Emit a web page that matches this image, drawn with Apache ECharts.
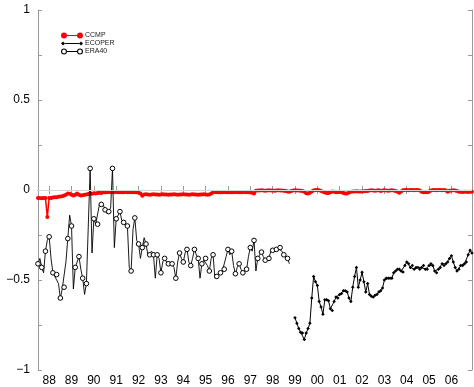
<!DOCTYPE html>
<html><head><meta charset="utf-8">
<script src="https://cdn.jsdelivr.net/npm/echarts@6/dist/echarts.min.js"></script>
<style>html,body{margin:0;padding:0;background:#fff}#c{width:474px;height:387px}</style>
</head><body><div id="c"></div>
<script>
// Monthly series; x in decimal years
const ccmpStart = 1987.5;   // July 1987
const era40Start = 1987.5;  // July 1987
const ecoperStart = 1999.0; // January 1999
const tickYears = [1988,1989,1990,1991,1992,1993,1994,1995,1996,1997,1998,1999,2000,2001,2002,2003,2004,2005,2006];
const tickLabels = ['88','89','90','91','92','93','94','95','96','97','98','99','00','01','02','03','04','05','06'];
const seriesNames = ['CCMP','ECOPER','ERA40'];

const ccmp = [
-0.045,-0.045,-0.046,-0.044,-0.045,
-0.15,
-0.045,-0.044,-0.042,-0.04,-0.04,
-0.038,-0.036,-0.035,-0.03,-0.026,
-0.02,-0.021,-0.026,
-0.03,-0.027,-0.02,-0.026,
-0.03,-0.029,-0.027,-0.025,-0.022,-0.02,
-0.021,-0.018,-0.019,-0.016,-0.015,-0.016,-0.013,
-0.012,-0.012,-0.011,-0.013,-0.012,-0.012,-0.011,-0.012,-0.013,-0.012,-0.012,-0.011,-0.012,-0.012,-0.013,-0.012,-0.012,-0.013,-0.015,-0.02,
-0.032,
-0.025,-0.024,-0.025,-0.026,-0.025,-0.024,-0.025,-0.025,-0.026,-0.025,
-0.024,-0.025,-0.025,-0.026,-0.025,-0.025,-0.024,-0.025,-0.026,-0.025,
-0.025,-0.024,-0.025,-0.025,-0.026,-0.025,-0.024,-0.025,-0.025,-0.026,
-0.025,-0.025,-0.024,-0.025,-0.026,-0.025,-0.02,
-0.012,-0.011,-0.012,-0.013,-0.012,-0.012,-0.011,-0.012,-0.012,-0.013,
-0.012,-0.012,-0.011,-0.012,-0.013,-0.012,-0.012,-0.011,-0.012,-0.012,
-0.013,-0.015,
-0.02,
-0.004,-0.003,-0.003,-0.002,-0.003,-0.004,-0.003,-0.002,-0.003,-0.003,
-0.004,-0.003,-0.002,-0.003,-0.003,-0.004,-0.005,-0.008,-0.01,-0.006,
-0.003,-0.002,-0.003,-0.003,-0.004,-0.006,
-0.01,-0.018,-0.02,-0.015,-0.008,
-0.003,0.0,0.0,-0.002,-0.006,-0.01,
-0.014,-0.016,-0.016,-0.012,-0.008,
-0.01,-0.012,-0.012,-0.01,-0.012,
-0.016,-0.02,-0.02,-0.014,-0.01,
-0.008,-0.008,-0.007,-0.008,-0.009,-0.008,-0.007,-0.006,-0.005,
-0.003,-0.002,-0.003,-0.004,-0.003,-0.002,-0.006,-0.003,-0.002,-0.003,-0.004,-0.003,-0.002,-0.003,-0.005,
-0.01,-0.015,-0.008,
-0.002,0.0,0.0,-0.001,0.0,0.0,-0.002,0.0,0.0,-0.003,
-0.01,-0.012,-0.012,-0.012,-0.008,
-0.003,0.0,0.0,-0.001,0.0,0.0,-0.002,0.0,-0.003,
-0.01,
-0.004,-0.003,-0.002,-0.003,-0.005,
-0.01,-0.01,-0.011,-0.01,-0.01,-0.011,-0.01,-0.01
];

const era40 = [
-0.41,-0.38,-0.43,-0.46,-0.34,-0.28,-0.26,-0.38,-0.46,-0.48,
-0.47,-0.52,-0.60,-0.55,-0.54,-0.40,-0.27,-0.14,-0.20,-0.55,
-0.43,-0.40,-0.37,-0.44,-0.49,-0.58,-0.52,-0.20,0.12,-0.35,
-0.16,-0.19,-0.19,-0.08,-0.08,-0.08,-0.11,-0.13,-0.12,-0.10,
0.12,-0.32,-0.16,-0.15,-0.12,-0.17,-0.18,-0.185,-0.20,-0.43,
-0.45,-0.22,-0.155,-0.28,-0.30,-0.38,-0.32,-0.265,-0.30,-0.36,
-0.36,-0.34,-0.36,-0.49,-0.36,-0.38,-0.46,-0.40,-0.38,-0.40,
-0.41,-0.40,-0.41,-0.43,-0.49,-0.40,-0.35,-0.38,-0.40,-0.35,
-0.33,-0.40,-0.42,-0.38,-0.33,-0.36,-0.38,-0.49,-0.41,-0.39,
-0.38,-0.42,-0.45,-0.38,-0.36,-0.49,-0.48,-0.47,-0.46,-0.45,
-0.44,-0.37,-0.33,-0.36,-0.34,-0.42,-0.465,-0.43,-0.41,-0.44,
-0.46,-0.45,-0.44,-0.37,-0.32,-0.34,-0.28,-0.45,-0.38,-0.36,
-0.345,-0.37,-0.39,-0.40,-0.38,-0.34,-0.335,-0.33,-0.33,-0.325,
-0.32,-0.34,-0.36,-0.37,-0.38,-0.41
];

const ecoper = [
-0.71,-0.74,-0.77,-0.79,-0.795,-0.83,-0.795,-0.77,-0.74,-0.60,
-0.48,-0.51,-0.53,-0.62,-0.65,-0.69,-0.61,-0.61,-0.615,-0.66,
-0.67,-0.62,-0.595,-0.60,-0.58,-0.575,-0.56,-0.56,-0.567,-0.60,
-0.62,-0.54,-0.48,-0.43,-0.54,-0.50,-0.457,-0.51,-0.567,-0.52,
-0.58,-0.59,-0.595,-0.585,-0.58,-0.567,-0.56,-0.545,-0.50,-0.49,
-0.49,-0.49,-0.49,-0.46,-0.45,-0.44,-0.44,-0.45,-0.455,-0.42,
-0.40,-0.41,-0.43,-0.42,-0.44,-0.43,-0.43,-0.44,-0.43,-0.42,
-0.44,-0.44,-0.42,-0.41,-0.42,-0.45,-0.46,-0.44,-0.43,-0.41,
-0.42,-0.41,-0.40,-0.38,-0.365,-0.40,-0.43,-0.45,-0.44,-0.42,
-0.42,-0.41,-0.40,-0.36,-0.335,-0.35
];

function monthly(start, vals){ return vals.map((v,i)=>[start + i/12, v]); }

const dot = 'M0,3 A3,3 0 1,1 6,3 A3,3 0 1,1 0,3 Z M16,3 A3,3 0 1,1 22,3 A3,3 0 1,1 16,3 Z M6,2.6 L16,2.6 L16,3.4 L6,3.4 Z';
const dia = 'M2,1 L4,3 L2,5 L0,3 Z M20,1 L22,3 L20,5 L18,3 Z M4,2.6 L18,2.6 L18,3.4 L4,3.4 Z M0,0 L0.01,0 L0.01,0.01 Z M0,6 L0.01,6 L0.01,5.99 Z';
const ring = 'M0,3 A3,3 0 1,1 6,3 A3,3 0 1,1 0,3 Z M1.1,3 A1.9,1.9 0 1,0 4.9,3 A1.9,1.9 0 1,0 1.1,3 Z ' +
             'M16,3 A3,3 0 1,1 22,3 A3,3 0 1,1 16,3 Z M17.1,3 A1.9,1.9 0 1,0 20.9,3 A1.9,1.9 0 1,0 17.1,3 Z M6,2.6 L16,2.6 L16,3.4 L6,3.4 Z';

const fmtY = v => {
  if (Math.abs(v*2 - Math.round(v*2)) > 1e-9) return '';
  if (Math.abs(v) < 1e-9) return '0';
  return v < 0 ? '\u2212' + String(Math.abs(v)) : String(v);
};

const axisColor = '#9a9a9a';
const chart = echarts.init(document.getElementById('c'), null, {renderer:'canvas'});
chart.setOption({
  animation: false,
  backgroundColor: '#fff',
  textStyle: {fontFamily: 'Liberation Sans, Arial, sans-serif'},
  grid: {left: 38, right: 2, top: 10, bottom: 17, containLabel: false},
  legend: {
    orient: 'vertical', left: 61, top: 32, padding: 0, itemGap: 1,
    itemWidth: 22, itemHeight: 6,
    textStyle: {fontSize: 7, color: '#222', padding: [0,0,0,-3]},
    data: [
      {name: seriesNames[0], icon: 'path://' + dot, itemStyle: {color: '#f00', borderWidth: 0}},
      {name: seriesNames[1], icon: 'path://' + dia, itemStyle: {color: '#000', borderWidth: 0}},
      {name: seriesNames[2], icon: 'path://' + ring, itemStyle: {color: '#000', borderWidth: 0}}
    ]
  },
  xAxis: [{
    type: 'value', min: 1987.5, max: 2006.92, position: 'bottom',
    axisLine: {show: true, lineStyle: {color: axisColor, width: 1}},
    axisTick: {show: true, inside: true, length: 4, customValues: tickYears, lineStyle: {color: axisColor}},
    axisLabel: {show: true, customValues: tickYears, margin: 5, fontSize: 12, color: '#000',
      formatter: v => tickLabels[tickYears.indexOf(Math.round(v))]},
    splitLine: {show: false}
  }, {
    type: 'value', min: 1987.5, max: 2006.92, position: 'top',
    axisLine: {show: true, lineStyle: {color: axisColor, width: 1}},
    axisTick: {show: true, inside: true, length: 4, customValues: tickYears, lineStyle: {color: axisColor}},
    axisLabel: {show: false},
    splitLine: {show: false}
  }],
  yAxis: [{
    type: 'value', min: -1, max: 1, interval: 0.25, position: 'left',
    axisLine: {show: true, lineStyle: {color: axisColor, width: 1}},
    axisTick: {show: true, inside: true, length: 4, lineStyle: {color: axisColor}},
    axisLabel: {show: true, margin: 8, fontSize: 12, color: '#000', formatter: fmtY},
    splitLine: {show: false}
  }, {
    type: 'value', min: -1, max: 1, interval: 0.25, position: 'right',
    axisLine: {show: true, lineStyle: {color: axisColor, width: 1}},
    axisTick: {show: true, inside: true, length: 4, lineStyle: {color: axisColor}},
    axisLabel: {show: false},
    splitLine: {show: false}
  }],
  series: [
    {
      name: 'zero', type: 'line', data: [], silent: true, z: 1,
      markLine: {silent: true, symbol: 'none', label: {show: false},
        lineStyle: {color: '#d6d6d6', width: 1, type: 'solid'}, data: [{yAxis: 0}]}
    },
    {
      name: seriesNames[0], type: 'line', data: monthly(ccmpStart, ccmp), z: 2,
      symbol: 'circle', symbolSize: 4, showAllSymbol: true,
      lineStyle: {color: '#f00', width: 1.5}, itemStyle: {color: '#f00'}
    },
    {
      name: seriesNames[1], type: 'line', data: monthly(ecoperStart, ecoper), z: 3,
      symbol: 'diamond', symbolSize: 3.5, showAllSymbol: true,
      lineStyle: {color: '#000', width: 1}, itemStyle: {color: '#000'}
    },
    {
      name: seriesNames[2], type: 'line', data: monthly(era40Start, era40), z: 4,
      symbol: 'circle', showAllSymbol: true,
      symbolSize: (val, p) => (p.dataIndex % 2 === 0 ? 4.6 : 0),
      lineStyle: {color: '#000', width: 0.9},
      itemStyle: {color: '#fff', borderColor: '#000', borderWidth: 1}
    }
  ]
});
</script></body></html>
